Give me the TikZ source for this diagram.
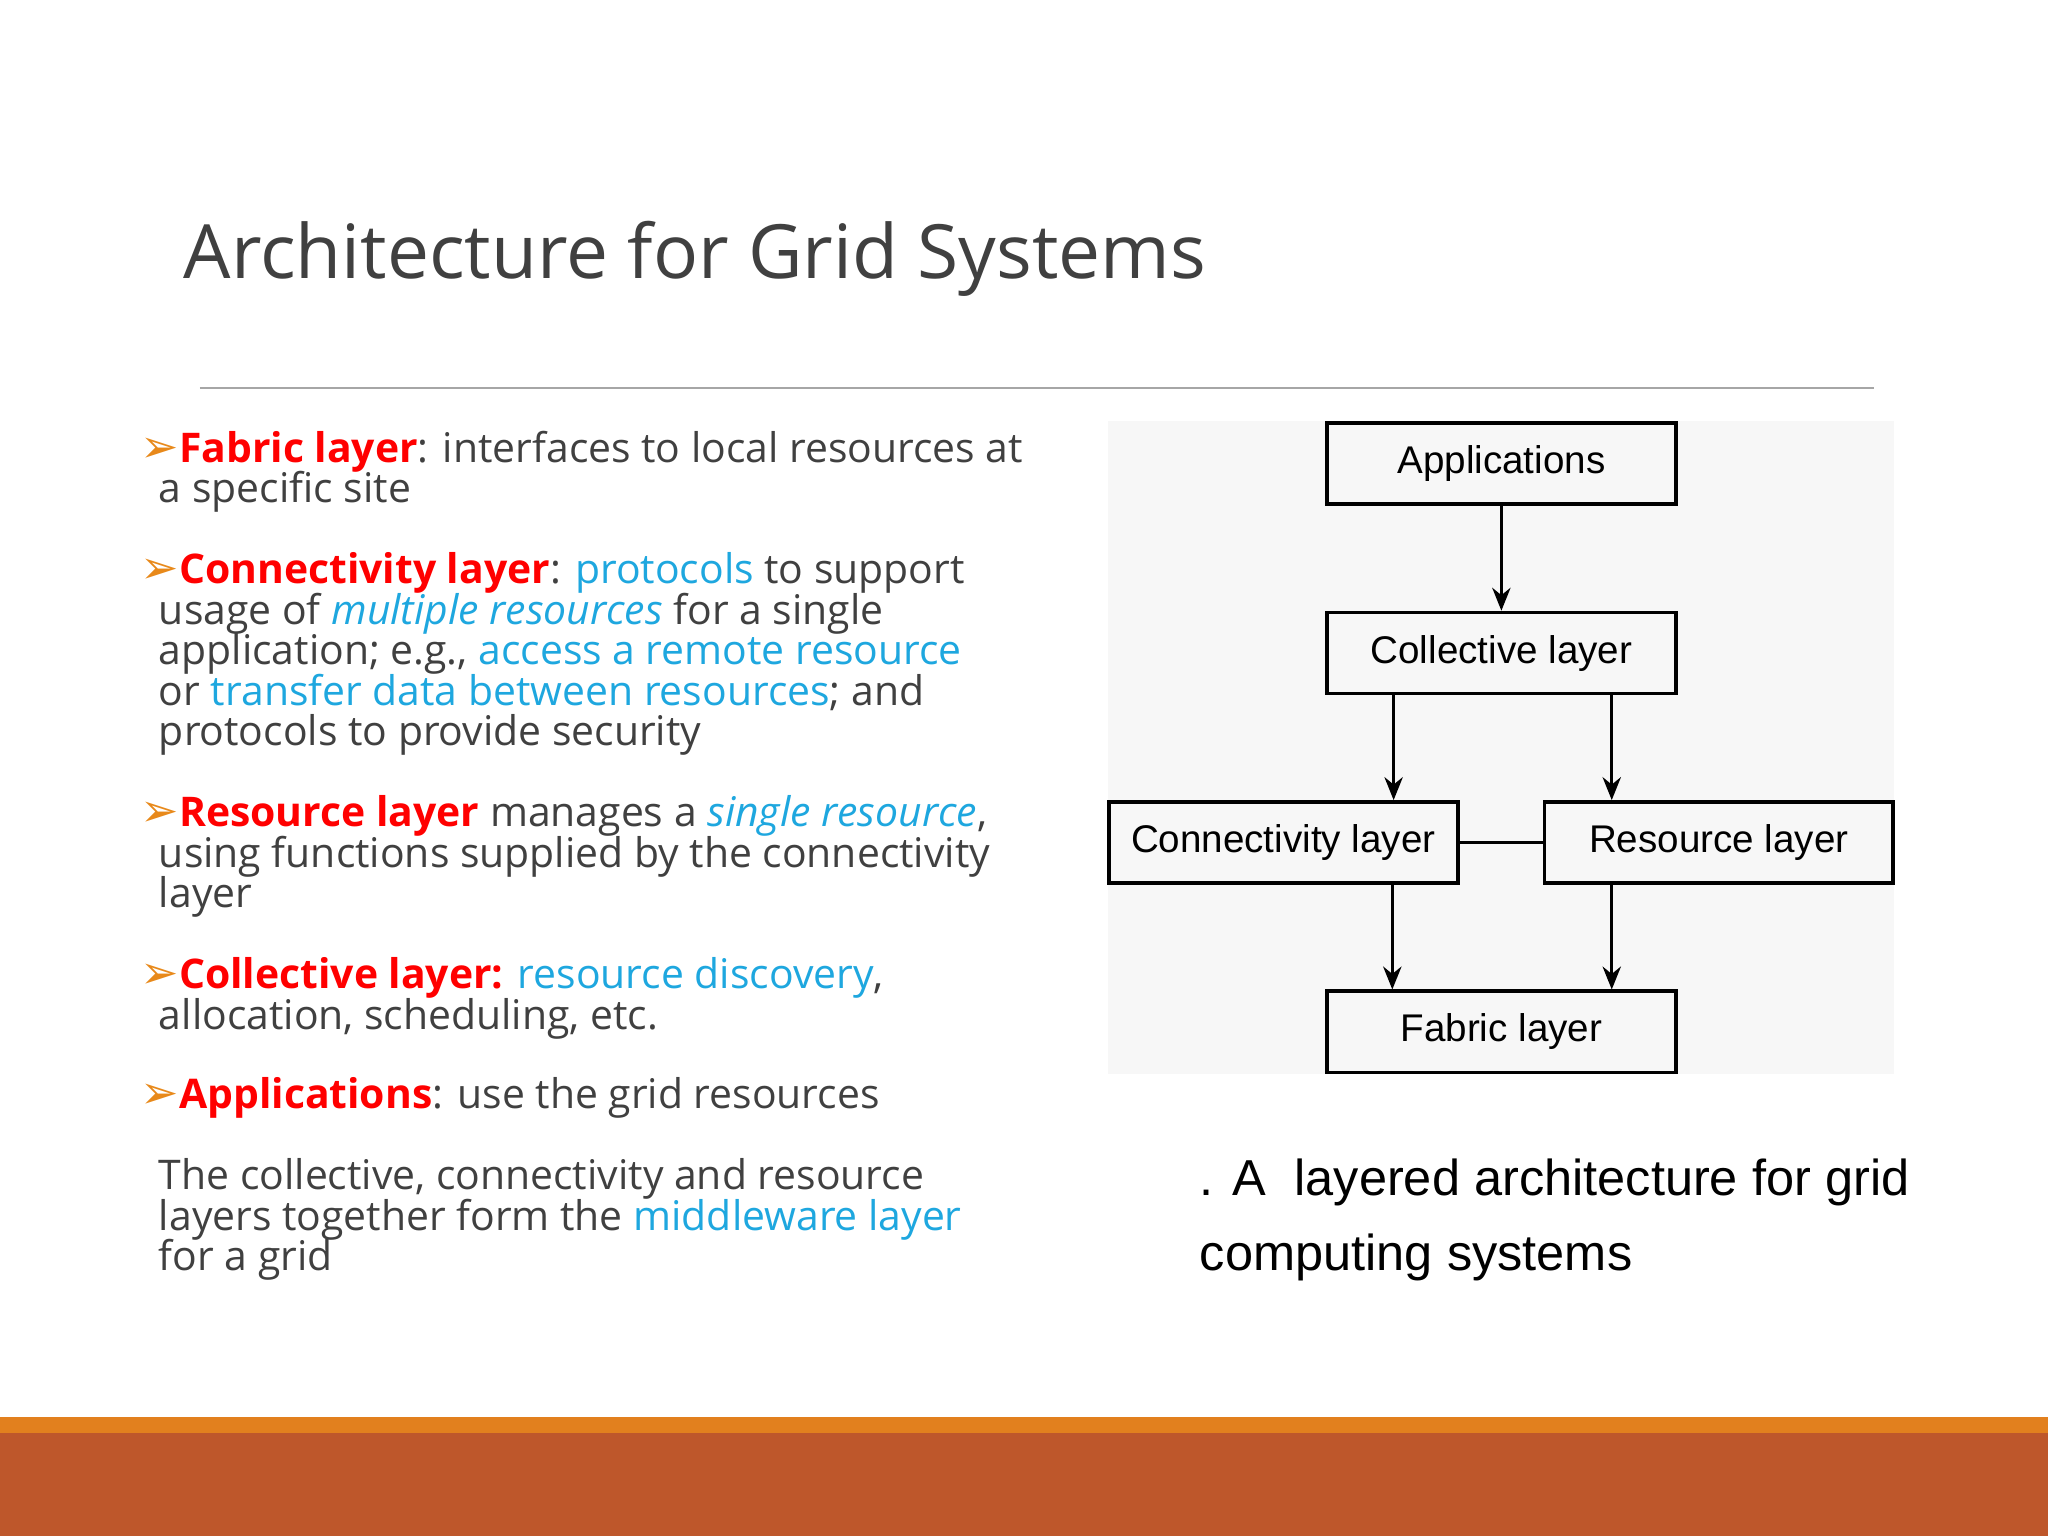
\documentclass[tikz,border=0pt]{standalone}
\usetikzlibrary{arrows.meta,calc}
\usepackage{fontspec}
\setmainfont{Open Sans}
\newfontfamily\arialf{Liberation Sans}
\newfontfamily\dvf{DejaVu Sans}
\definecolor{txt}{HTML}{404040}
\definecolor{rd}{HTML}{FF0000}
\definecolor{bl}{HTML}{1EA7DF}
\definecolor{orl}{HTML}{E2801E}
\definecolor{ord}{HTML}{BE572B}
\definecolor{bul}{HTML}{E8891A}
\begin{document}
\begin{tikzpicture}[x=0.01cm,y=-0.01cm,
  ln/.style={anchor=base west,inner sep=0,font=\fontsize{8.9}{10}\selectfont,text=txt},
  bx/.style={draw,thick,minimum width=2.67cm,minimum height=0.62cm,font=\arialf\fontsize{8.4}{10}\selectfont,inner sep=0},
  ar/.style={-{Stealth[length=5pt,width=4pt]},semithick}]
\useasboundingbox (0,0) rectangle (1568,1176);
\fill[white] (0,0) rectangle (1568,1176);
\fill[orl] (0,1085) rectangle (1568,1097);
\fill[ord] (0,1097) rectangle (1568,1176);
\node[anchor=base west,inner sep=0,text=txt,font=\fontsize{16.3}{19}\selectfont] (title) at (140,213) {Architecture for Grid Systems};
\draw[gray!70] (153,297) -- (1435,297);
\newcommand{\bu}{{\dvf\fontsize{10}{10}\selectfont\color{bul}➢}}
% bullets
\node[ln] (b1) at (107,354) {\bu\textcolor{rd}{\textbf{Fabric layer}}: interfaces to local resources at};
\node[ln] (b1b) at (121,385) {a specific site};
\node[ln] (b2) at (107,447) {\bu\textcolor{rd}{\textbf{Connectivity layer}}: \textcolor{bl}{protocols} to support};
\node[ln] (b2b) at (121,478) {usage of \textcolor{bl}{\textit{multiple resources}} for a single};
\node[ln] (b2c) at (121,509) {application; e.g., \textcolor{bl}{access a remote resource}};
\node[ln] (b2d) at (121,540) {or \textcolor{bl}{transfer data between resources}; and};
\node[ln] (b2e) at (121,571) {protocols to provide security};
\node[ln] (b3) at (107,633) {\bu\textcolor{rd}{\textbf{Resource layer}} manages a \textcolor{bl}{\textit{single resource}},};
\node[ln] (b3b) at (121,664) {using functions supplied by the connectivity};
\node[ln] (b3c) at (121,695) {layer};
\node[ln] (b4) at (107,757) {\bu\textcolor{rd}{\textbf{Collective layer:}} \textcolor{bl}{resource discovery},};
\node[ln] (b4b) at (121,788) {allocation, scheduling, etc.};
\node[ln] (b5) at (107,849) {\bu\textcolor{rd}{\textbf{Applications}}: use the grid resources};
\node[ln] (m1) at (121,911) {The collective, connectivity and resource};
\node[ln] (m2) at (121,942) {layers together form the \textcolor{bl}{middleware layer}};
\node[ln] (m3) at (121,973) {for a grid};
% diagram
\fill[black!3] (848,322) rectangle (1450,822);
\node[bx] (app) at (1149.5,355) {Applications};
\node[bx] (col) at (1149.5,500) {Collective layer};
\node[bx] (con) at (982.5,645) {Connectivity layer};
\node[bx] (res) at (1316,645) {Resource layer};
\node[bx] (fab) at (1149.5,790) {Fabric layer};
\draw[ar] (app.south) -- (col.north);
\draw[ar] ($(col.south)+(-82.5,0)$) -- ($(con.north)+(84.5,0)$);
\draw[ar] ($(col.south)+(84.5,0)$) -- ($(res.north)+(-82,0)$);
\draw[ar] ($(con.south)+(83.5,0)$) -- ($(fab.north)+(-83.5,0)$);
\draw[ar] ($(res.south)+(-82,0)$) -- ($(fab.north)+(84.5,0)$);
\draw[semithick] (con.east) -- (res.west);
\node[anchor=base west,inner sep=0,font=\arialf\fontsize{11}{13}\selectfont] (cap1) at (918,915) {. A\ \ layered architecture for grid};
\node[anchor=base west,inner sep=0,font=\arialf\fontsize{11}{13}\selectfont] (cap2) at (918,973) {computing systems};
\end{tikzpicture}
\end{document}
